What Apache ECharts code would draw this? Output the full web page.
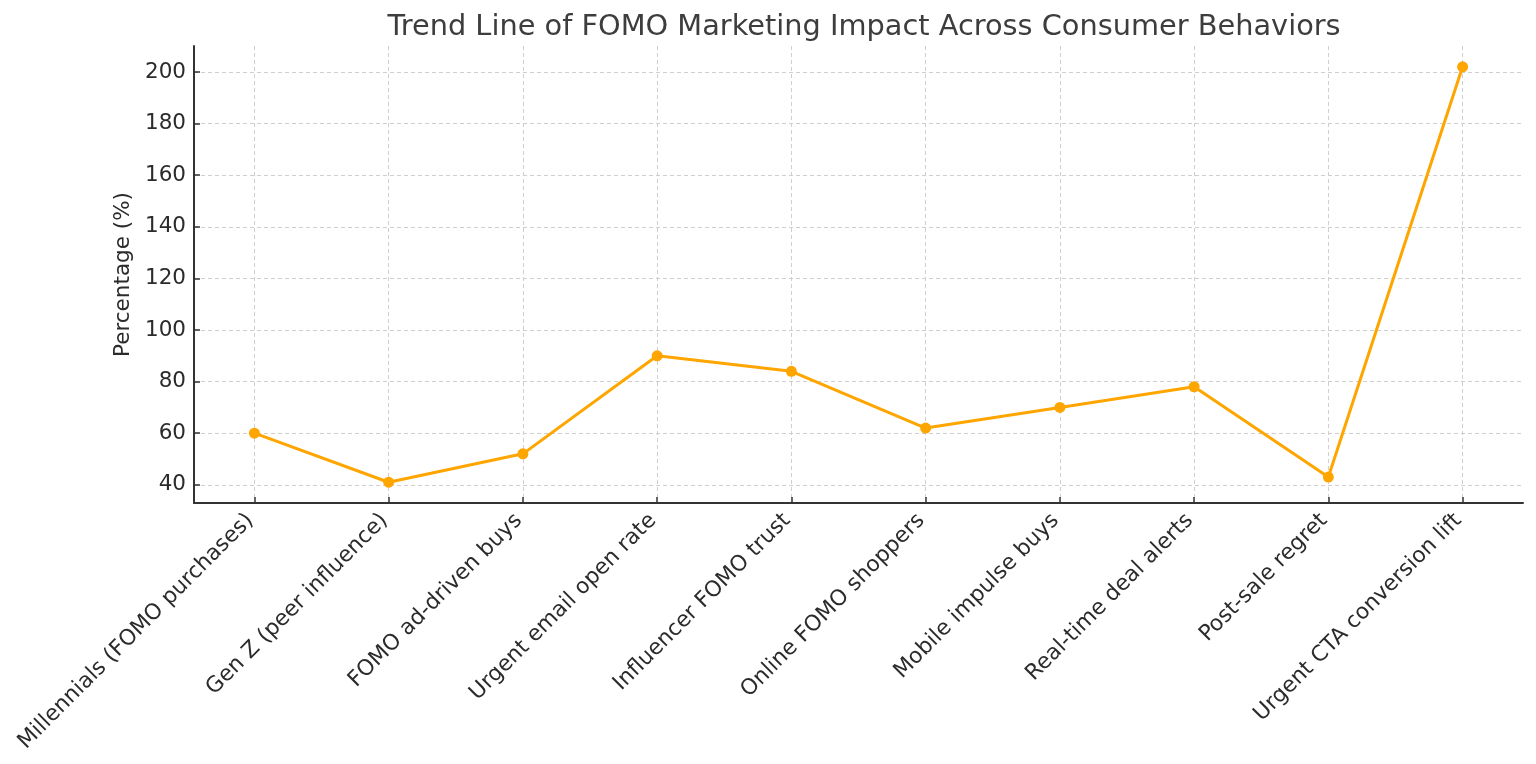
<!DOCTYPE html>
<html>
<head>
<meta charset="utf-8">
<script src="https://cdn.jsdelivr.net/npm/echarts@6/dist/echarts.min.js"></script>
<style>
  html, body { margin: 0; padding: 0; background: #fff; }
  #chart { width: 1536px; height: 764px; }
</style>
</head>
<body>
<div id="chart"></div>
<script>
const categories = [
  "Millennials (FOMO purchases)",
  "Gen Z (peer influence)",
  "FOMO ad-driven buys",
  "Urgent email open rate",
  "Influencer FOMO trust",
  "Online FOMO shoppers",
  "Mobile impulse buys",
  "Real-time deal alerts",
  "Post-sale regret",
  "Urgent CTA conversion lift",
]
const values = [60, 41, 52, 90, 84, 62, 70, 78, 43, 202]
const yTicks = [40, 60, 80, 100, 120, 140, 160, 180, 200]

const font = "DejaVu Sans"
const textColor = "#2b2b2b"
const gridLine = { show: true, lineStyle: { color: "#cfcfcf", type: [4, 3], width: 1 } }

// matplotlib-like 5% margins around the data
const yMin = 41 - (202 - 41) * 0.05
const yMax = 202 + (202 - 41) * 0.05
const xIdx = categories.map((c, i) => i)

const option = {
  backgroundColor: "#fff",
  animation: false,
  title: {
    text: "Trend Line of FOMO Marketing Impact Across Consumer Behaviors",
    left: 859,
    top: 8,
    textAlign: "center",
    textStyle: { fontFamily: font, fontSize: 28.8, fontWeight: "normal", color: "#3d3d3d" },
  },
  grid: { left: 194, right: 13, top: 46, bottom: 261, containLabel: false },
  xAxis: {
    type: "value",
    min: -0.45,
    max: 9.45,
    axisLine: { show: true, onZero: false, lineStyle: { color: "#333", width: 2 } },
    axisTick: { show: true, inside: true, length: 6, customValues: xIdx, lineStyle: { color: "#333", width: 1.5 } },
    axisLabel: {
      customValues: xIdx,
      rotate: 45,
      margin: 10,
      padding: [0, 6, 0, 0],
      fontFamily: font,
      fontSize: 21.8,
      color: textColor,
      formatter: (v) => categories[Math.round(v)],
    },
    splitLine: gridLine,
  },
  yAxis: {
    type: "value",
    min: yMin,
    max: yMax,
    name: "Percentage (%)",
    nameLocation: "middle",
    nameGap: 54,
    nameTextStyle: { fontFamily: font, fontSize: 21.5, color: textColor },
    axisLine: { show: true, onZero: false, lineStyle: { color: "#333", width: 2 } },
    axisTick: { show: true, inside: true, length: 6, customValues: yTicks, lineStyle: { color: "#333", width: 1.5 } },
    axisLabel: { customValues: yTicks, margin: 8, fontFamily: font, fontSize: 21.5, color: textColor },
    splitLine: gridLine,
  },
  series: [
    {
      type: "line",
      data: values.map((v, i) => [i, v]),
      symbol: "circle",
      symbolSize: 11,
      itemStyle: { color: "#FFA500" },
      lineStyle: { color: "#FFA500", width: 3 },
      z: 3,
    },
  ],
}

const chart = echarts.init(document.getElementById("chart"))
chart.setOption(option)
</script>
</body>
</html>
